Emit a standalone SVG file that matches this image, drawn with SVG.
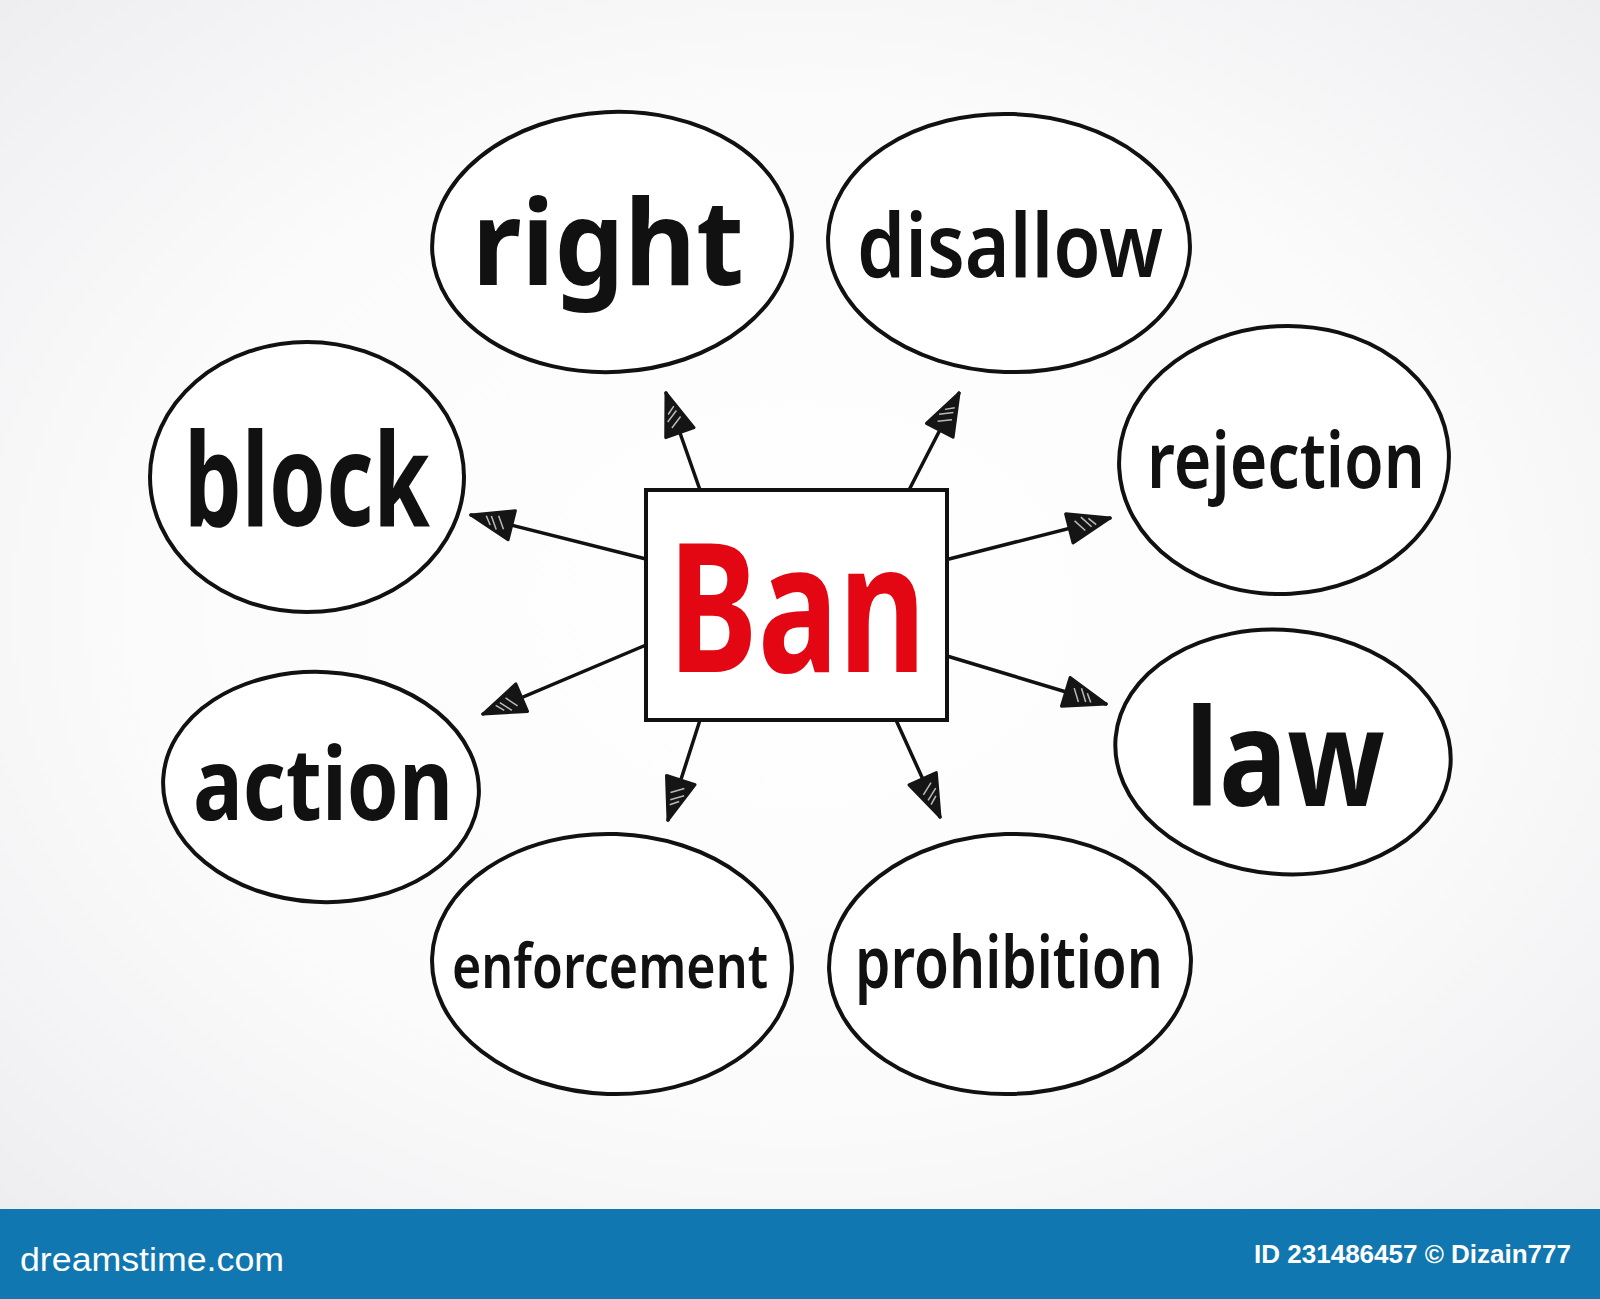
<svg xmlns="http://www.w3.org/2000/svg" width="1600" height="1299" viewBox="0 0 1600 1299">
<defs>
<radialGradient id="bg" cx="0.5" cy="0.5" r="0.75">
<stop offset="0" stop-color="#ffffff"/>
<stop offset="0.55" stop-color="#fbfbfc"/>
<stop offset="1" stop-color="#ececee"/>
</radialGradient>
<marker id="ah" viewBox="0 0 48 36" refX="45" refY="18" markerWidth="48" markerHeight="36" markerUnits="userSpaceOnUse" orient="auto">
<path d="M3,3 L45,18 L3,33 Z" fill="#151515" stroke="#151515" stroke-width="3" stroke-linejoin="round"/>
<path d="M10,12 L18,24 M17,10 L25,22 M24,13 L30,21" stroke="#fff" stroke-width="1.5" opacity="0.7"/>
</marker>
</defs>
<style>
.node ellipse{fill:#fff;stroke:#111;stroke-width:4}
.lbl{font-family:"Noto Sans","DejaVu Sans",sans-serif;font-weight:bold;fill:#111;text-anchor:middle}
.med{font-weight:600}
.conn line{stroke:#111;stroke-width:3.5;stroke-linecap:round;marker-end:url(#ah)}
.ban{font-family:"Noto Sans","DejaVu Sans",sans-serif;font-weight:bold;fill:#e30613;text-anchor:middle}
.foot{font-family:"Liberation Sans","DejaVu Sans",sans-serif;fill:#fff}
</style>
<rect x="0" y="0" width="1600" height="1210" fill="url(#bg)"/>

<g id="connectors" class="conn">
<line x1="700" y1="490" x2="666" y2="393"/>
<line x1="909" y1="490" x2="959" y2="393"/>
<line x1="646" y1="559" x2="471" y2="515"/>
<line x1="949" y1="559" x2="1110" y2="518"/>
<line x1="646" y1="645" x2="483" y2="714"/>
<line x1="947" y1="656" x2="1106" y2="704"/>
<line x1="700" y1="720" x2="668" y2="820"/>
<line x1="896" y1="720" x2="940" y2="817"/>
</g>

<g id="node-ban">
<rect x="646" y="490" width="301" height="230" fill="#fff" stroke="#111" stroke-width="4"/>
<text class="ban" x="797" y="672" font-size="180" textLength="258" lengthAdjust="spacingAndGlyphs">Ban</text>
</g>

<g id="node-right" class="node">
<ellipse cx="612" cy="242" rx="180" ry="130" transform="rotate(-3 612 242)"/>
<text class="lbl" x="608" y="285" font-size="118" textLength="272" lengthAdjust="spacingAndGlyphs">right</text>
</g>
<g id="node-disallow" class="node">
<ellipse cx="1009" cy="243" rx="181" ry="129" transform="rotate(2 1009 243)"/>
<text class="lbl med" x="1010" y="277" font-size="88" textLength="306" lengthAdjust="spacingAndGlyphs">disallow</text>
</g>
<g id="node-block" class="node">
<ellipse cx="307" cy="477" rx="157" ry="135"/>
<text class="lbl" x="307" y="526" font-size="130" textLength="246" lengthAdjust="spacingAndGlyphs">block</text>
</g>
<g id="node-rejection" class="node">
<ellipse cx="1284" cy="460" rx="165" ry="134" transform="rotate(-3 1284 460)"/>
<text class="lbl med" x="1286" y="488" font-size="78" textLength="278" lengthAdjust="spacingAndGlyphs">rejection</text>
</g>
<g id="node-action" class="node">
<ellipse cx="321" cy="787" rx="158" ry="115" transform="rotate(3 321 787)"/>
<text class="lbl" x="323" y="820" font-size="100" textLength="260" lengthAdjust="spacingAndGlyphs">action</text>
</g>
<g id="node-law" class="node">
<ellipse cx="1283" cy="752" rx="168" ry="122" transform="rotate(5 1283 752)"/>
<text class="lbl" x="1285" y="806" font-size="135" textLength="200" lengthAdjust="spacingAndGlyphs">law</text>
</g>
<g id="node-enforcement" class="node">
<ellipse cx="612" cy="964" rx="180" ry="130" transform="rotate(2 612 964)"/>
<text class="lbl med" x="610" y="988" font-size="62" textLength="316" lengthAdjust="spacingAndGlyphs">enforcement</text>
</g>
<g id="node-prohibition" class="node">
<ellipse cx="1010" cy="964" rx="181" ry="130" transform="rotate(-2 1010 964)"/>
<text class="lbl med" x="1009" y="988" font-size="72" textLength="308" lengthAdjust="spacingAndGlyphs">prohibition</text>
</g>

<g id="footer">
<rect x="0" y="1209" width="1600" height="90" fill="#1077b0"/>
<text class="foot" x="20" y="1271" font-size="34" textLength="264" lengthAdjust="spacingAndGlyphs">dreamstime.com</text>
<text class="foot" x="1571" y="1263" font-size="26" font-weight="bold" text-anchor="end">ID 231486457 © Dizain777</text>
</g>
</svg>
